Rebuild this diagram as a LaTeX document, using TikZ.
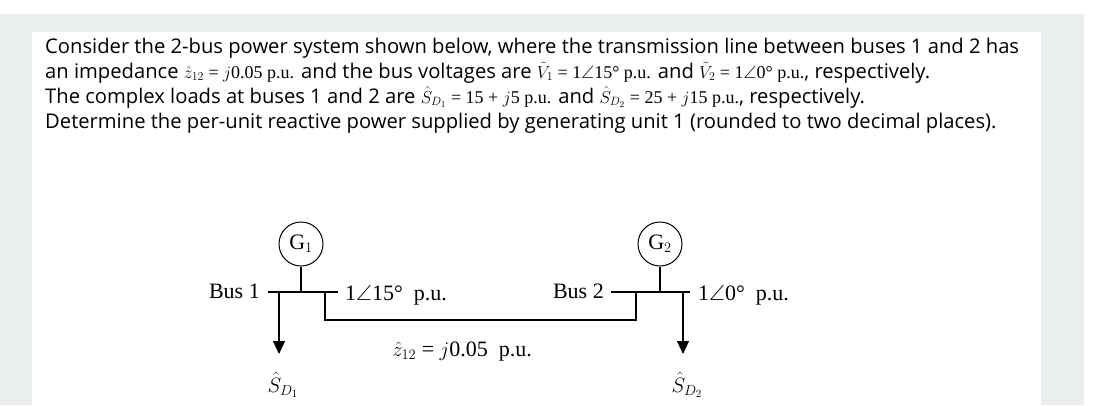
\documentclass[tikz,border=0pt]{standalone}
\usepackage{amssymb}
\usepackage{fontspec}
\setmainfont{Open Sans}
\newfontfamily\tms{Liberation Serif}
\usetikzlibrary{arrows.meta}
\begin{document}
\begin{tikzpicture}[x=1pt,y=-1pt,
  wire/.style={line width=1.2pt},
  gen/.style={circle,draw,line width=1pt,minimum size=44pt,inner sep=0pt,font=\tms\fontsize{22}{22}\selectfont},
  lbl/.style={font=\tms\fontsize{22}{22}\selectfont,inner sep=0pt},
  txt/.style={font=\fontsize{20.2}{22}\selectfont,anchor=base west,inner sep=0pt}, mth/.style={},
  ld/.style={wire,-{Triangle[length=13pt,width=12pt]}}]
\useasboundingbox (0,0) rectangle (1097,405);
\fill[white] (0,0) rectangle (1097,405);
\fill[black!7!white!98!cyan] (0,14) rectangle (1084,405);
\fill[white] (32,32) rectangle (1041,405);
\node[txt] (t1) at (45,53) {Consider the 2-bus power system shown below, where the transmission line between buses 1 and 2 has};
\node[txt] (t2) at (45,78) {an impedance {\tms\fontsize{18}{18}\selectfont$\hat z_{12}$ = $j$0.05 p.u.} and the bus voltages are {\tms\fontsize{18}{18}\selectfont$\tilde V_1$ = 1$\angle$15° p.u.} and {\tms\fontsize{18}{18}\selectfont$\tilde V_2$ = 1$\angle$0° p.u.}, respectively.};
\node[txt] (t3) at (45,103) {The complex loads at buses 1 and 2 are {\tms\fontsize{18}{18}\selectfont$\hat S_{D_1}$ = 15 + $j$5 p.u.} and {\tms\fontsize{18}{18}\selectfont$\hat S_{D_2}$ = 25 + $j$15 p.u.}, respectively.};
\node[txt] (t4) at (45,128) {Determine the per-unit reactive power supplied by generating unit 1 (rounded to two decimal places).};
% diagram
\node[gen] (g1) at (301,244) {G$_1$};
\node[gen] (g2) at (660,244) {G$_2$};
\coordinate (b1l) at (268,292); \coordinate (b1r) at (338,292);
\coordinate (b2l) at (611,292); \coordinate (b2r) at (690,292);
\draw[wire] (b1l) -- (b1r);
\draw[wire] (b2l) -- (b2r);
\draw[wire] (g1.south) -- (g1.south |- b1l);
\draw[wire] (g2.south) -- (g2.south |- b2l);
\coordinate (l1) at (279,292); \coordinate (l1e) at (279,354);
\coordinate (l2) at (683,292); \coordinate (l2e) at (683,354);
\draw[ld] (l1) -- (l1e);
\draw[ld] (l2) -- (l2e);
\coordinate (t1a) at (325,292); \coordinate (t2a) at (636,292);
\draw[wire] (t1a) -- ++(0,28) -| (t2a);
\node[lbl,anchor=base east] (bus1) at (260,298) {Bus 1};
\node[lbl,anchor=base east] (bus2) at (604,298) {Bus 2};
\node[lbl,anchor=base west] (v1) at (345,300) {1$\angle$15°\ \ p.u.};
\node[lbl,anchor=base west] (v2) at (698,300) {1$\angle$0°\ \ p.u.};
\node[lbl,anchor=base] (z) at (462,356) {$\hat z_{12}$ = $j$0.05\ \ p.u.};
\node[lbl,anchor=base] (s1) at (283,392) {$\hat S_{D_1}$};
\node[lbl,anchor=base] (s2) at (687,392) {$\hat S_{D_2}$};
\end{tikzpicture}
\end{document}
